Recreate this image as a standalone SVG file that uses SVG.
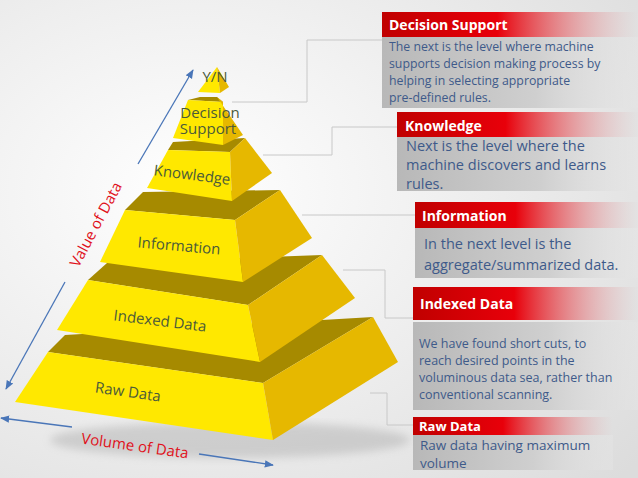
<svg xmlns="http://www.w3.org/2000/svg" width="638" height="478" viewBox="0 0 638 478">
<defs>
<radialGradient id="bg" cx="0.3" cy="0.4" r="0.9"><stop offset="0" stop-color="#ffffff"/><stop offset="1" stop-color="#dcdcdc"/></radialGradient>
<linearGradient id="hd" x1="0" y1="0" x2="1" y2="0"><stop offset="0" stop-color="#c00000"/><stop offset="0.45" stop-color="#e8000a"/><stop offset="1" stop-color="#e0e0e0" stop-opacity="0.3"/></linearGradient>
<linearGradient id="bd" x1="0" y1="0" x2="1" y2="0"><stop offset="0" stop-color="#b8b8b8"/><stop offset="0.6" stop-color="#cfcfcf"/><stop offset="1" stop-color="#e6e6e6" stop-opacity="0.4"/></linearGradient>
<marker id="ar" viewBox="0 0 10 10" refX="9" refY="5" markerWidth="7" markerHeight="7" orient="auto-start-reverse"><path d="M0,1 L10,5 L0,9 z" fill="#4a76b8"/></marker>
<filter id="sh" x="-10%" y="-10%" width="130%" height="130%"><feGaussianBlur stdDeviation="4"/></filter>
</defs>
<style>
.top{fill:#a68a00}.front{fill:#ffe800}.side{fill:#e6b800}
.pl{font-family:"Open Sans","Liberation Sans",sans-serif;fill:#4a5a3a;font-size:15px}
.ax{stroke:#4a76b8;stroke-width:1.3;fill:none}
.red{font-family:"Open Sans","Liberation Sans",sans-serif;fill:#e0101a;font-size:15px}
.con{stroke:#c8c8c8;stroke-width:1;fill:none}
.ht{font-family:"Open Sans","Liberation Sans",sans-serif;fill:#fff;font-weight:bold}
.bt{font-family:"Open Sans","Liberation Sans",sans-serif;fill:#3e5a8a}
</style>
<rect width="638" height="478" fill="url(#bg)"/>
<ellipse cx="230" cy="440" rx="180" ry="18" fill="#999" opacity="0.35" filter="url(#sh)"/>
<g id="connectors">
<path class="con" d="M232,102 H307 V40 H382"/>
<path class="con" d="M263,155 H332 V127 H397"/>
<path class="con" d="M302,215 H415"/>
<path class="con" d="M343,270 H385 V318 H427"/>
<path class="con" d="M370,393 H387 V425 H413"/>
</g>
<g id="raw-data">
<polygon class="top" points="65,335 373,317 263,383 48,352"/>
<polygon class="front" points="48,352 263,383 273,440 15,402"/>
<polygon class="side" points="263,383 373,317 398,362 273,440"/>
<text class="pl" x="128" y="397" transform="rotate(8 128 392)" text-anchor="middle">Raw Data</text>
</g>
<g id="indexed-data">
<polygon class="top" points="107,263 322,255 248,305 88,280"/>
<polygon class="front" points="88,280 248,305 260,362 57,330"/>
<polygon class="side" points="248,305 322,255 355,298 260,362"/>
<text class="pl" x="160" y="326" transform="rotate(7 160 321)" text-anchor="middle">Indexed Data</text>
</g>
<g id="information">
<polygon class="top" points="143,192 280,190 235,220 125,210"/>
<polygon class="front" points="125,210 235,220 243,282 100,262"/>
<polygon class="side" points="235,220 280,190 312,238 243,282"/>
<text class="pl" x="179" y="251" transform="rotate(5 179 246)" text-anchor="middle">Information</text>
</g>
<g id="knowledge">
<polygon class="top" points="173,142 245,138 230,152 168,150"/>
<polygon class="front" points="168,150 230,152 232,201 147,188"/>
<polygon class="side" points="230,152 245,138 272,173 232,201"/>
<text class="pl" x="192" y="180" transform="rotate(7 192 176)" text-anchor="middle" font-size="13.5">Knowledge</text>
</g>
<g id="decision-support">
<polygon class="top" points="200,97 217,97 223,102 188,100"/>
<polygon class="front" points="188,100 223,102 223,145 173,138"/>
<polygon class="side" points="223,102 217,97 243,135 223,145"/>
<text class="pl" x="210" y="118" text-anchor="middle" font-size="10">Decision</text>
<text class="pl" x="208" y="134" text-anchor="middle" font-size="10">Support</text>
</g>
<g id="yn">
<polygon class="front" points="217,67 198,92 220,93"/>
<polygon class="side" points="217,67 220,93 229,87"/>
<text class="pl" x="215" y="82" text-anchor="middle" font-size="11">Y/N</text>
</g>
<g id="axes">
<line class="ax" x1="138" y1="164" x2="193" y2="70" marker-end="url(#ar)"/>
<line class="ax" x1="65" y1="282" x2="6" y2="389" marker-end="url(#ar)"/>
<line class="ax" x1="72" y1="427" x2="1" y2="418" marker-end="url(#ar)"/>
<line class="ax" x1="199" y1="454" x2="273" y2="465" marker-end="url(#ar)"/>
<text class="red" x="97" y="229" transform="rotate(-62 97 225)" text-anchor="middle">Value of Data</text>
<text class="red" x="135" y="451" transform="rotate(8 135 446)" text-anchor="middle">Volume of Data</text>
</g>
<g id="panel-decision">
<rect x="382" y="12" width="256" height="25" fill="url(#hd)"/>
<rect x="382" y="37" width="256" height="71" fill="url(#bd)"/>
<text class="ht" x="389" y="30" font-size="14">Decision Support</text>
<text class="bt" font-size="12.3"><tspan x="389" y="51">The next is the level where machine</tspan><tspan x="389" y="68">supports decision making process by</tspan><tspan x="389" y="85">helping in selecting appropriate</tspan><tspan x="389" y="102">pre-defined rules.</tspan></text>
</g>
<g id="panel-knowledge">
<rect x="397" y="112" width="241" height="25" fill="url(#hd)"/>
<rect x="397" y="137" width="241" height="54" fill="url(#bd)"/>
<text class="ht" x="405" y="131" font-size="14">Knowledge</text>
<text class="bt" font-size="14.5"><tspan x="406" y="151">Next is the level where the</tspan><tspan x="406" y="170">machine discovers and learns</tspan><tspan x="406" y="189">rules.</tspan></text>
</g>
<g id="panel-information">
<rect x="415" y="202" width="223" height="26" fill="url(#hd)"/>
<rect x="415" y="228" width="223" height="50" fill="url(#bd)"/>
<text class="ht" x="422" y="221" font-size="14">Information</text>
<text class="bt" font-size="14.5"><tspan x="424" y="249">In the next level is the</tspan><tspan x="424" y="270">aggregate/summarized data.</tspan></text>
</g>
<g id="panel-indexed">
<rect x="413" y="287" width="225" height="33" fill="url(#hd)"/>
<rect x="413" y="322" width="225" height="88" fill="url(#bd)"/>
<text class="ht" x="420" y="309" font-size="14">Indexed Data</text>
<text class="bt" font-size="12.5"><tspan x="419" y="348">We have found short cuts, to</tspan><tspan x="419" y="365">reach desired points in the</tspan><tspan x="419" y="382">voluminous data sea, rather than</tspan><tspan x="419" y="399">conventional scanning.</tspan></text>
</g>
<g id="panel-raw">
<rect x="413" y="417" width="200" height="18" fill="url(#hd)"/>
<rect x="413" y="435" width="200" height="35" fill="url(#bd)"/>
<text class="ht" x="419" y="431" font-size="13">Raw Data</text>
<text class="bt" font-size="13.5"><tspan x="420" y="450">Raw data having maximum</tspan><tspan x="420" y="468">volume</tspan></text>
</g>
</svg>
